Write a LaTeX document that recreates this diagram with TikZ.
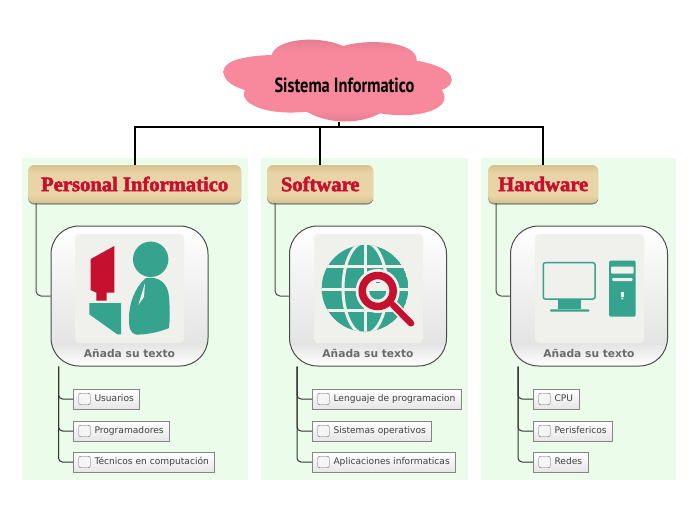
\documentclass[tikz,border=0pt]{standalone}
\usepackage{fontspec}
\usepackage{tikz}
\usetikzlibrary{shapes,arrows,positioning,shadows,calc}
\newfontfamily\rootfont[FakeStretch=0.8]{PT Sans}
\newfontfamily\titlefont[FakeBold=2.6]{Liberation Serif}
\newfontfamily\cardfont{DejaVu Sans}
\newfontfamily\itemfont{DejaVu Sans}
\definecolor{panelgreen}{HTML}{ECFCEA}
\definecolor{cloudpink}{HTML}{F8889C}
\definecolor{clouddark}{HTML}{DD7A8C}
\definecolor{tan}{HTML}{E8D4A6}
\definecolor{tandark}{HTML}{D8C190}
\definecolor{crimson}{HTML}{C5102F}
\definecolor{teal}{HTML}{35A38E}
\definecolor{iconback}{HTML}{F0F0EC}
\definecolor{cardgray}{HTML}{E4E4E4}
\definecolor{itemgray}{HTML}{E6E6E6}
\pgfdeclareverticalshading{cloudshade}{100bp}{color(0bp)=(clouddark); color(25bp)=(clouddark); color(33bp)=(cloudpink); color(65bp)=(cloudpink); color(75bp)=(clouddark); color(100bp)=(clouddark)}
\pgfdeclareverticalshading{headshade}{100bp}{color(0bp)=(tandark); color(25bp)=(tandark); color(35bp)=(tan); color(65bp)=(tan); color(75bp)=(tandark); color(100bp)=(tandark)}
\pgfdeclareverticalshading{cardshade}{100bp}{color(0bp)=(white); color(25bp)=(white); color(33bp)=(cardgray); color(75bp)=(white); color(100bp)=(white)}
\pgfdeclareverticalshading{itemshade}{100bp}{color(0bp)=(itemgray); color(25bp)=(itemgray); color(75bp)=(white); color(100bp)=(white)}

\begin{document}
\begin{tikzpicture}[x=1pt,y=-1pt,auto]
\tikzstyle{panel} = [fill=panelgreen]
\tikzstyle{root} = [minimum width=231pt, minimum height=73pt, inner sep=0pt, font=\rootfont\bfseries\fontsize{20.5}{20}\selectfont, text=black]
\tikzstyle{head} = [shape=rectangle, rounded corners=6pt, shading=headshade, minimum height=38pt, anchor=west, inner xsep=0pt, text=crimson, font=\titlefont\bfseries\fontsize{20.6}{20}\selectfont, drop shadow={shadow xshift=0pt,shadow yshift=-1.5pt,opacity=.45,fill=black}]
\tikzstyle{card} = [draw=black!70, shape=rectangle, rounded corners=28pt, shading=cardshade, minimum width=157pt, minimum height=140pt, line width=1pt]
\tikzstyle{iconbox} = [fill=iconback, shape=rectangle, rounded corners=4pt, minimum size=109pt, inner sep=0pt]
\tikzstyle{caption} = [text=black!58, font=\cardfont\bfseries\fontsize{10.7}{11}\selectfont, inner sep=0pt]
\tikzstyle{item} = [draw=black!48, shape=rectangle, shading=itemshade, minimum height=20pt, anchor=west, inner ysep=0pt, inner xsep=6pt, text height=7pt, text depth=2pt, text=black!75, font=\itemfont\fontsize{9.1}{10}\selectfont, line width=1pt]
\tikzstyle{chk} = [draw=black!60, fill=black!4, shape=rectangle, rounded corners=2pt, minimum size=11.5pt, inner sep=0pt]
\tikzstyle{trunk} = [line width=2.4pt]
\tikzstyle{branch} = [draw=black!70, line width=1pt, rounded corners=5pt]
\tikzstyle{twig} = [draw=black!80, line width=1pt, rounded corners=4pt]
\tikzstyle{gap} = [draw=iconback, line width=3pt]
\useasboundingbox (0,0) rectangle (696,520);
%Panels
\fill[panel] (22,158) rectangle (248,480);
\fill[panel] (261,158) rectangle (468,480);
\fill[panel] (481,158) rectangle (676,480);
%Cloud
\shade[shading=cloudshade] (271.7,55) .. controls (240,56) and (223,62) .. (223.5,72) .. controls (224,82) and (235,87) .. (245,90)
  .. controls (238,103) and (265,116) .. (306.7,111.7) .. controls (330,125) and (360,124) .. (380,113.3)
  .. controls (420,120) and (455,108) .. (441.7,90) .. controls (458,84) and (458,68) .. (416.7,60.7)
  .. controls (418,42) and (370,38) .. (343.3,46) .. controls (315,34) and (275,40) .. (271.7,55) -- cycle;
%Creating Blocks and Connection Nodes
\node at (339,85) [root] (sistema) {\hspace*{11pt}Sistema Informatico};
\coordinate (bus) at (339,127);
\node at (28,184) [head,minimum width=213pt] (personal) {Personal Informatico};
\node at (267,184) [head,minimum width=106pt] (software) {Software};
\node at (488,184) [head,minimum width=110pt] (hardware) {Hardware};
\node at (129.5,296) [card] (card1) {};
\node at (368,296) [card] (card2) {};
\node at (589,296) [card] (card3) {};
\node at (129.5,288.5) [iconbox] (icon1) {};
\node at (368.5,288.5) [iconbox] (icon2) {};
\node at (589.5,288.5) [iconbox] (icon3) {};
\node at (129.5,353) [caption] (cap1) {Añada su texto};
\node at (368,353) [caption] (cap2) {Añada su texto};
\node at (589,353) [caption] (cap3) {Añada su texto};
%Person icon
\fill[crimson] (90.7,259) -- (114.3,246) -- (114.3,292.7) -- (106.7,292.7) -- (106.7,300.7) -- (96.3,300.7) -- (96.3,292.7) -- (90.7,290) -- cycle;
\fill[teal] (89.3,303) -- (121,303) -- (121,334.3) -- (117.3,334.3) -- (89.3,314.3) -- cycle;
\fill[teal] (150.7,259.3) circle (17.7);
\fill[teal] (146,278) .. controls (160,276) and (168,284) .. (169,297) .. controls (170,310) and (170,318) .. (169,328)
  .. controls (160,332) and (145,335) .. (136,334.5) .. controls (130,333) and (129,328) .. (129,318) .. controls (129,305) and (134,288) .. (146,278) -- cycle;
\fill[iconback] (145,283) -- (138.3,305) -- (144,297) -- cycle;
%Globe icon
\begin{scope}
\clip (365,288.3) circle (43.3);
\fill[teal] (365,288.3) circle (43.3);
\draw[gap] (365,240) -- (365,336);
\draw[gap] (320,266.7) -- (410,266.7);
\draw[gap] (320,289) -- (410,289);
\draw[gap] (320,310.7) -- (410,310.7);
\draw[gap] (365,288.3) ellipse (22 and 46);
\end{scope}
\draw[iconback,line width=10pt] (393,305) -- (411,323.3);
\fill[iconback] (377.7,291) circle (22);
\draw[crimson,line width=6.5pt,line cap=round] (393,305) -- (411,323.3);
\fill[iconback] (377.7,291) circle (18);
\draw[crimson,line width=7.5pt] (377.7,291) circle (15.5);
\begin{scope}
\clip (377.7,291) circle (8.5);
\fill[teal] (365,290.5) rectangle (390,302);
\end{scope}
\fill[teal] (375.7,282) rectangle (379.7,283);
%Computer icon
\draw[teal,line width=1.5pt,rounded corners=2pt] (543.3,262.7) rectangle (595,299);
\fill[teal] (558.3,299.7) rectangle (581,309.3);
\fill[teal,rounded corners=1pt] (550,309.3) rectangle (589.3,311.7);
\fill[teal,rounded corners=1.5pt] (609,260.7) rectangle (635.7,316.7);
\fill[iconback,rounded corners=1pt] (611,266.7) rectangle (633.7,273.7);
\fill[iconback,rounded corners=1pt] (612,278) rectangle (632.7,281);
\fill[iconback] (620.7,292.3) rectangle (623.7,296.5);
\fill[iconback] (622.2,298.5) circle (1.2);
%Check list items
\node at (73,399) [item] (usuarios) {\hspace*{15pt}Usuarios};
\node at (73,431) [item] (programadores) {\hspace*{15pt}Programadores};
\node at (73,462) [item] (tecnicos) {\hspace*{15pt}Técnicos en computación};
\node at (312,399) [item] (lenguaje) {\hspace*{15pt}Lenguaje de programacion};
\node at (312,431) [item] (sistemas) {\hspace*{15pt}Sistemas operativos};
\node at (312,462) [item] (aplicaciones) {\hspace*{15pt}Aplicaciones informaticas};
\node at (533,399) [item] (cpu) {\hspace*{15pt}CPU};
\node at (533,431) [item] (perisfericos) {\hspace*{15pt}Perisfericos};
\node at (533,462) [item] (redes) {\hspace*{15pt}Redes};
\node at (84.5,399) [chk] (chk1) {};
\node at (84.5,431) [chk] (chk2) {};
\node at (84.5,462) [chk] (chk3) {};
\node at (323.5,399) [chk] (chk4) {};
\node at (323.5,431) [chk] (chk5) {};
\node at (323.5,462) [chk] (chk6) {};
\node at (544.5,399) [chk] (chk7) {};
\node at (544.5,431) [chk] (chk8) {};
\node at (544.5,462) [chk] (chk9) {};
\begin{scope}[line width = 1pt]
\draw[trunk] (sistema.south) -- (bus);
\draw[trunk] (bus) -| (personal.north);
\draw[trunk] (bus) -| (software.north);
\draw[trunk] (bus) -| (hardware.north);
\draw[branch] ([xshift=8pt]personal.south west) |- (card1.west);
\draw[branch] ([xshift=8pt]software.south west) |- (card2.west);
\draw[branch] ([xshift=8pt]hardware.south west) |- (card3.west);
\draw[twig] ([xshift=8pt]card1.south west) |- (usuarios.west);
\draw[twig] ([xshift=8pt]card1.south west) |- (programadores.west);
\draw[twig] ([xshift=8pt]card1.south west) |- (tecnicos.west);
\draw[twig] ([xshift=8pt]card2.south west) |- (lenguaje.west);
\draw[twig] ([xshift=8pt]card2.south west) |- (sistemas.west);
\draw[twig] ([xshift=8pt]card2.south west) |- (aplicaciones.west);
\draw[twig] ([xshift=8pt]card3.south west) |- (cpu.west);
\draw[twig] ([xshift=8pt]card3.south west) |- (perisfericos.west);
\draw[twig] ([xshift=8pt]card3.south west) |- (redes.west);
\end{scope}
\end{tikzpicture}
\end{document}
